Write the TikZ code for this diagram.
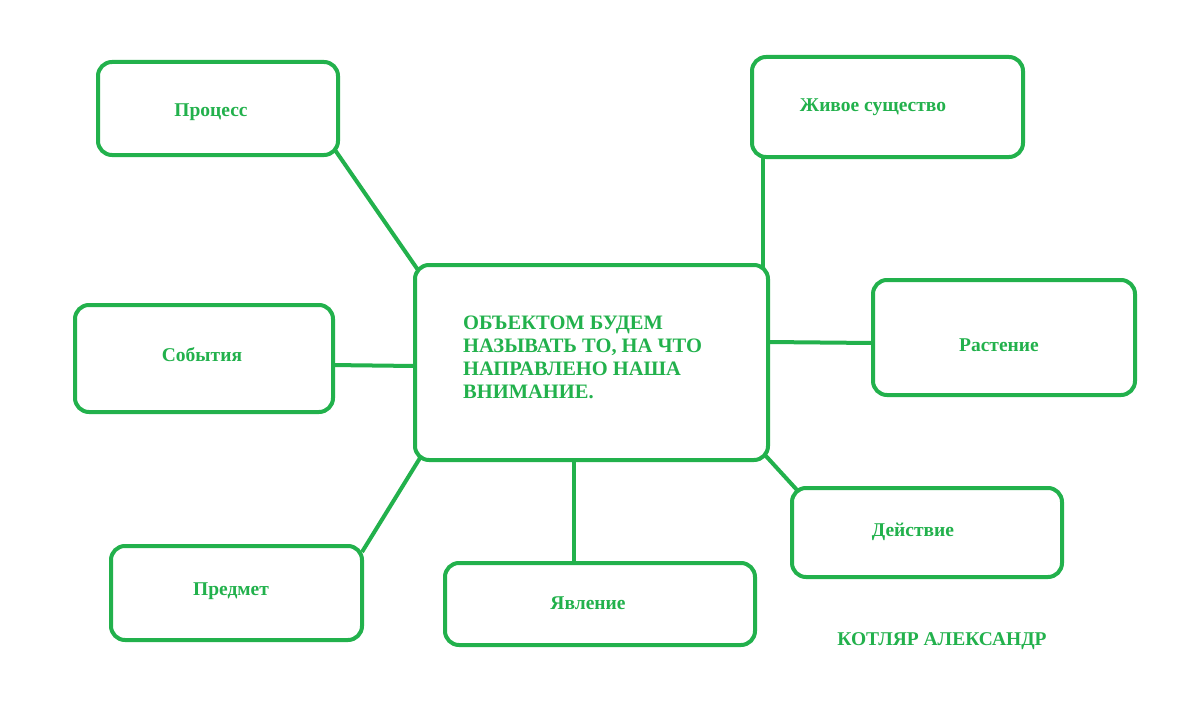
\documentclass[tikz,border=0pt]{standalone}
\usepackage{fontspec}
\setmainfont{Liberation Serif}
\definecolor{g}{RGB}{34,177,76}
\begin{document}
\begin{tikzpicture}[x=1pt,y=-1pt,
 box/.style={draw=g,line width=4pt,rounded corners=14pt,fill=white},
 lab/.style={text=g,font=\bfseries\fontsize{19.5}{22}\selectfont},
 ln/.style={draw=g,line width=4pt}]
\useasboundingbox (0,0) rectangle (1181,725);
\fill[white] (0,0) rectangle (1181,725);
\draw[ln] (335,150) -- (418,270);
\draw[ln] (763,157) -- (763,268);
\draw[ln] (768,342) -- (873,343);
\draw[ln] (765,455) -- (797,490);
\draw[ln] (574,460) -- (574,565);
\draw[ln] (362,552) -- (420,458);
\draw[ln] (330,365) -- (415,366);
\draw[box] (98,62) rectangle (338,155);
\draw[box] (752,57) rectangle (1023,157);
\draw[box] (415,265) rectangle (768,460);
\draw[box] (75,305) rectangle (333,412);
\draw[box] (873,280) rectangle (1135,395);
\draw[box] (792,488) rectangle (1062,577);
\draw[box] (111,546) rectangle (362,640);
\draw[box] (445,563) rectangle (755,645);
\node[lab] (n1) at (211,112) {Процесс};
\node[lab] (n2) at (873,107) {Живое существо};
\node[lab] (n3) at (202,355) {События};
\node[lab] (n4) at (999,345) {Растение};
\node[lab] (n5) at (913,532) {Действие};
\node[lab] (n6) at (231,591) {Предмет};
\node[lab] (n7) at (588,603) {Явление};
\node[lab] (n8) at (942,641) {КОТЛЯР АЛЕКСАНДР};
\node[lab,anchor=north west,align=left,inner sep=0pt,font=\bfseries\fontsize{20.5}{23}\selectfont] (c) at (463,316)
 {ОБЪЕКТОМ БУДЕМ\\НАЗЫВАТЬ ТО, НА ЧТО\\НАПРАВЛЕНО НАША\\ВНИМАНИЕ.};
\end{tikzpicture}
\end{document}
